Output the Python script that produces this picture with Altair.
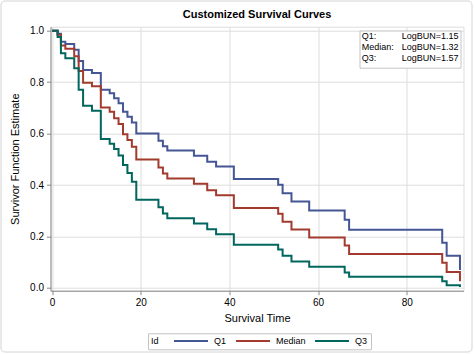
import altair as alt
import pandas as pd

# Event times (step positions)
times = [0, 1.25, 2, 3, 5, 6, 7, 9, 11, 13, 14, 15, 16, 17, 18, 19, 24, 25, 26, 32,
         35, 37, 41, 51, 52, 54, 58, 66, 67, 88, 89, 92]
q1 = [1.0, 0.988, 0.957, 0.948, 0.926, 0.882, 0.847, 0.836, 0.770, 0.757,
      0.737, 0.718, 0.685, 0.666, 0.643, 0.600, 0.572, 0.551, 0.534, 0.514,
      0.491, 0.472, 0.424, 0.401, 0.368, 0.336, 0.301, 0.265, 0.226, 0.176,
      0.125, 0.070]
median = [1.0, 0.984, 0.942, 0.930, 0.901, 0.843, 0.798, 0.784, 0.701, 0.685,
          0.660, 0.637, 0.598, 0.575, 0.549, 0.499, 0.468, 0.445, 0.426, 0.405,
          0.380, 0.360, 0.311, 0.289, 0.257, 0.227, 0.196, 0.165, 0.132, 0.098,
          0.062, 0.026]
q3 = [1.0, 0.975, 0.912, 0.893, 0.854, 0.770, 0.708, 0.689, 0.579, 0.561,
      0.540, 0.515, 0.478, 0.447, 0.413, 0.343, 0.314, 0.290, 0.271, 0.251,
      0.228, 0.209, 0.168, 0.150, 0.125, 0.103, 0.083, 0.060, 0.044, 0.026,
      0.011, 0.004]

ids = ["Q1", "Median", "Q3"]
colors = ["#445694", "#A23A2E", "#01665E"]
x_ticks = [0, 20, 40, 60, 80]
y_ticks = [0.0, 0.2, 0.4, 0.6, 0.8, 1.0]
inset_labels = ["Q1:", "Median:", "Q3:"]
inset_values = ["LogBUN=1.15", "LogBUN=1.32", "LogBUN=1.57"]

rows = []
for name, vals in zip(ids, [q1, median, q3]):
    for t, s in zip(times, vals):
        rows.append({"time": t, "surv": s, "id": name})
df = pd.DataFrame(rows)

FONT = "Liberation Sans"

curves = alt.Chart(df).mark_line(interpolate="step-after", strokeWidth=2).encode(
    x=alt.X("time:Q",
            scale=alt.Scale(domain=[-0.35, 92.8], nice=False, zero=False),
            axis=alt.Axis(values=x_ticks, title="Survival Time", format="d",
                          tickSize=4, labelPadding=3, titlePadding=5,
                          titleFontWeight="normal")),
    y=alt.Y("surv:Q",
            scale=alt.Scale(domain=[-0.0105, 1.0155], nice=False),
            axis=alt.Axis(values=y_ticks, format=".1f", title="Survivor Function Estimate",
                          tickSize=4, labelPadding=3, titlePadding=9,
                          titleFontWeight="normal")),
    color=alt.Color("id:N", scale=alt.Scale(domain=ids, range=colors),
                    legend=alt.Legend(orient="none", legendX=97.5, legendY=306.6,
                                      direction="horizontal", title="Id",
                                      titleOrient="left", titleFontWeight="normal",
                                      titleFontSize=9, labelFontSize=9,
                                      symbolType="stroke", symbolSize=1156,
                                      symbolStrokeWidth=2, clipHeight=9,
                                      strokeColor="#c4c4c4", padding=3,
                                      columnPadding=8, labelOffset=5,
                                      titlePadding=14, fillColor="white")),
)

one = pd.DataFrame({"k": [0]})

inset_box = alt.Chart(one).mark_rect(fill="white", stroke="#c4c4c4", strokeWidth=1).encode(
    x=alt.value(309.5), x2=alt.value(410.5), y=alt.value(4.3), y2=alt.value(41.5))

inset_left = alt.Chart(one).mark_text(align="left", baseline="middle", fontSize=9,
                                      font=FONT, lineHeight=11, color="black").encode(
    x=alt.value(311.2), y=alt.value(9.6), text=alt.value(inset_labels))

inset_right = alt.Chart(one).mark_text(align="left", baseline="middle", fontSize=9,
                                       font=FONT, lineHeight=11, color="black").encode(
    x=alt.value(351.2), y=alt.value(9.6), text=alt.value(inset_values))

outer = alt.Chart(one).mark_rect(fill=None, stroke="#d4d4d4", strokeWidth=1,
                                  cornerRadius=4).encode(
    x=alt.value(-49.5), x2=alt.value(421.5), y=alt.value(-25.7), y2=alt.value(325.3))

chart = alt.layer(outer, curves, inset_box, inset_left, inset_right).properties(
    width=413, height=264,
    title=alt.TitleParams("Customized Survival Curves", fontSize=11, fontWeight="bold",
                          font=FONT, anchor="middle", offset=-19.5, color="black"),
    autosize=alt.AutoSizeParams(type="none"),
    padding={"left": 50.5, "top": 26.7, "right": 10.5, "bottom": 64.3},
).configure_view(
    stroke="#c4c4c4", strokeWidth=1
).configure_axis(
    labelFont=FONT, titleFont=FONT, labelFontSize=9, titleFontSize=10,
    titleFontWeight="normal", labelColor="black", titleColor="black",
    gridColor="#e6e6e6", domainColor="#c4c4c4", tickColor="#808080",
).configure_legend(
    labelFont=FONT, titleFont=FONT, labelColor="black", titleColor="black",
).configure(background="white")

chart.save("out.html", embed_options={"renderer": "svg", "actions": False})
